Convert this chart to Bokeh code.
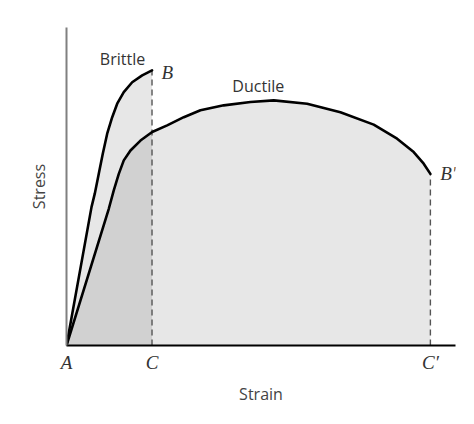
from bokeh.plotting import figure
from bokeh.models import FixedTicker, Label
from bokeh.embed import file_html
from bokeh.resources import INLINE

# Data (arbitrary units: strain, stress)
brittle_strain = [0.0, 0.687, 0.777, 0.887, 0.997, 1.118, 1.256, 1.393, 1.574, 1.805, 2.080, 2.35]
brittle_stress = [0.0, 50.3, 55.2, 62.4, 69.7, 77.0, 83.0, 87.9, 92.1, 95.7, 98.2, 100.0]

ductile_strain = [0.0, 1.162, 1.299, 1.437, 1.574, 1.758, 2.033, 2.354, 2.766, 3.223, 3.681,
                  4.321, 5.055, 5.695, 6.613, 7.527, 8.442, 9.085, 9.541, 9.816, 10.0]
ductile_stress = [0.0, 49.7, 56.4, 62.4, 67.3, 70.9, 74.5, 77.6, 80.0, 83.0, 85.5,
                  87.3, 88.5, 89.1, 87.9, 84.8, 80.3, 75.2, 70.3, 66.1, 62.4]

tick_labels = ["A", "C", "C\u2032"]

C = brittle_strain[-1]
Cp = ductile_strain[-1]

p = figure(width=466, height=416, output_backend="svg", toolbar_location=None,
           x_range=(0, 10.69), y_range=(0, 115.6),
           min_border_left=66, min_border_right=11, min_border_top=27, min_border_bottom=71)
p.outline_line_color = None
p.xgrid.visible = False
p.ygrid.visible = False
p.background_fill_color = "white"

# fills (overlap becomes darker)
p.patch(ductile_strain + [Cp], ductile_stress + [0.0], fill_color="black", fill_alpha=0.095, line_color=None)
p.patch(brittle_strain + [C], brittle_stress + [0.0], fill_color="black", fill_alpha=0.095, line_color=None)

# dashed verticals at fracture
p.segment(x0=[C, Cp], y0=[0, 0], x1=[C, Cp], y1=[brittle_stress[-1], ductile_stress[-1]],
          line_color="#555555", line_width=1.4, line_dash="6 4")

# curves
p.line(brittle_strain, brittle_stress, line_color="black", line_width=2.6, line_join="round", line_cap="round")
p.line(ductile_strain, ductile_stress, line_color="black", line_width=2.6, line_join="round", line_cap="round")

# axes
xa = p.xaxis[0]
xa.ticker = FixedTicker(ticks=[0, C, Cp])
xa.major_label_overrides = {0: tick_labels[0], C: tick_labels[1], Cp: tick_labels[2]}
xa.major_tick_out = 0
xa.major_tick_in = 0
xa.minor_tick_out = 0
xa.minor_tick_in = 0
xa.axis_line_color = "black"
xa.axis_line_width = 2
xa.major_label_text_font = "Liberation Serif"
xa.major_label_text_font_style = "italic"
xa.major_label_text_font_size = "19px"
xa.major_label_text_color = "#333333"
xa.major_label_standoff = 6
xa.axis_label = "Strain"
xa.axis_label_text_font = "Open Sans"
xa.axis_label_text_font_style = "normal"
xa.axis_label_text_font_size = "16px"
xa.axis_label_text_color = "#444444"
xa.axis_label_standoff = 7

ya = p.yaxis[0]
ya.ticker = FixedTicker(ticks=[])
ya.major_tick_out = 0
ya.major_tick_in = 0
ya.minor_tick_out = 0
ya.minor_tick_in = 0
ya.axis_line_color = "#808080"
ya.axis_line_width = 2
ya.axis_label = "Stress"
ya.axis_label_text_font = "Open Sans"
ya.axis_label_text_font_style = "normal"
ya.axis_label_text_font_size = "16px"
ya.axis_label_text_color = "#444444"
ya.axis_label_standoff = 17

# text labels
sans = dict(text_font="Open Sans", text_font_size="16px", text_color="#333333",
            text_align="center", text_baseline="middle")
serif = dict(text_font="Liberation Serif", text_font_style="italic", text_font_size="19px",
             text_color="#333333", text_align="center", text_baseline="middle")
p.add_layout(Label(x=1.54, y=104.0, text="Brittle", **sans))
p.add_layout(Label(x=5.27, y=94.5, text="Ductile", **sans))
p.add_layout(Label(x=2.77, y=99.3, text="B", **serif))
p.add_layout(Label(x=10.49, y=62.7, text="B\u2032", **serif))

open("out.html", "w").write(file_html(p, INLINE))
